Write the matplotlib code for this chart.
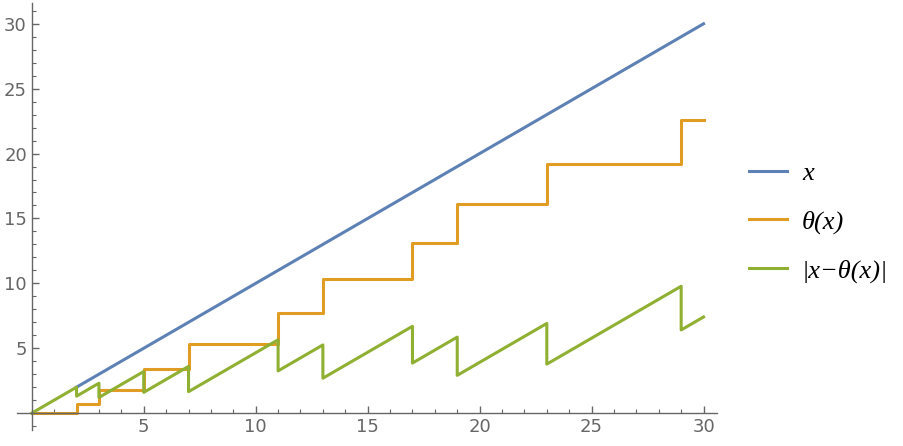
import matplotlib.pyplot as plt
from matplotlib.ticker import MultipleLocator

# primes up to 30 and theta(x) just after each jump
primes = [2, 3, 5, 7, 11, 13, 17, 19, 23, 29]
theta_vals = [0.693, 1.792, 3.401, 5.347, 7.745, 10.310, 13.143, 16.088, 19.224, 22.591]
x_end = 30

# |x - theta(x)| at the breakpoints (left, right of each jump)
diff_x = [0, 2, 2, 3, 3, 5, 5, 7, 7, 11, 11, 13, 13, 17, 17, 19, 19, 23, 23, 29, 29, 30]
diff_y = [0, 2.0, 1.307, 2.307, 1.208, 3.208, 1.599, 3.599, 1.653, 5.653, 3.255, 5.255,
          2.690, 6.690, 3.857, 5.857, 2.912, 6.912, 3.776, 9.776, 6.409, 7.409]

line_x = [2, 30]

blue = '#5E81B5'
orange = '#E19C24'
green = '#8FB032'

fig = plt.figure(figsize=(9.04, 4.46), dpi=100)
ax = fig.add_axes([17 / 904, 16 / 446, 700 / 904, 427 / 446])

# build step path for theta
tx = [0]
ty = [0]
prev = 0
for p, t in zip(primes, theta_vals):
    tx += [p, p]
    ty += [prev, t]
    prev = t
tx.append(x_end)
ty.append(prev)

lw = 2.2
ax.plot(line_x, line_x, color=blue, lw=lw, label='x')
ax.plot(tx, ty, color=orange, lw=lw, label='θ(x)')
ax.plot(diff_x, diff_y, color=green, lw=lw, label='|x−θ(x)|')

ax.set_xlim(-0.66, 30.6)
ax.set_ylim(-1.3, 31.6)

for s in ['top', 'right']:
    ax.spines[s].set_visible(False)
ax.spines['left'].set_position(('data', 0))
ax.spines['bottom'].set_position(('data', 0))
for s in ['left', 'bottom']:
    ax.spines[s].set_color('#666666')
    ax.spines[s].set_linewidth(1.0)

ax.xaxis.set_minor_locator(MultipleLocator(1))
ax.yaxis.set_minor_locator(MultipleLocator(1))
ax.set_xticks([5, 10, 15, 20, 25, 30])
ax.set_yticks([5, 10, 15, 20, 25, 30])
ax.tick_params(which='major', direction='in', length=5, width=1, color='#666666',
               labelcolor='#666666', labelsize=13)
ax.tick_params(which='minor', direction='in', length=3, width=0.8, color='#666666')

leg = ax.legend(loc='center left', frameon=False,
                borderpad=0, borderaxespad=0,
                handlelength=1.45, handletextpad=0.55, labelspacing=0.95,
                prop={'family': 'Liberation Serif', 'style': 'italic', 'size': 19})
leg.set_bbox_to_anchor((1.046, 0.487), transform=ax.transAxes)

fig.savefig('out.png', dpi=100)
